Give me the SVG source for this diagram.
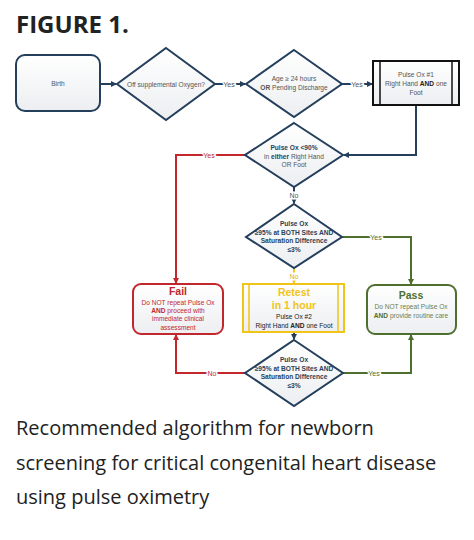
<svg xmlns="http://www.w3.org/2000/svg" width="474" height="540" viewBox="0 0 474 540">
<style>
.t{font-family:"Liberation Sans",Arial,sans-serif;font-size:6.6px;fill:#555;text-anchor:middle}
.h{font-size:10.5px;font-weight:bold}
.b{font-weight:bold}
.nv{fill:#2a3f57}
.lbl{font-family:"Liberation Sans",Arial,sans-serif;font-size:7px;text-anchor:middle;stroke:#fff;stroke-width:3;paint-order:stroke}
.nav{stroke:#243f5c;stroke-width:2;fill:none}
.red{stroke:#c1272d;stroke-width:2;fill:none}
.grn{stroke:#4f6f2f;stroke-width:2;fill:none}
.yel{stroke:#f0c419;stroke-width:2;fill:none}
.cap{font-family:"Open Sans","Liberation Sans",sans-serif;font-size:20px;fill:#222}
</style>
<defs>
<linearGradient id="g" x1="0" y1="0" x2="0" y2="1"><stop offset="0" stop-color="#ffffff"/><stop offset="1" stop-color="#eceef1"/></linearGradient>
<marker id="an" markerWidth="6" markerHeight="6" refX="5" refY="3" orient="auto" markerUnits="userSpaceOnUse"><path d="M0,0 L6,3 L0,6 z" fill="#243f5c"/></marker>
<marker id="ar" markerWidth="6" markerHeight="6" refX="5" refY="3" orient="auto" markerUnits="userSpaceOnUse"><path d="M0,0 L6,3 L0,6 z" fill="#c1272d"/></marker>
<marker id="ag" markerWidth="6" markerHeight="6" refX="5" refY="3" orient="auto" markerUnits="userSpaceOnUse"><path d="M0,0 L6,3 L0,6 z" fill="#4f6f2f"/></marker>
<marker id="ay" markerWidth="6" markerHeight="6" refX="5" refY="3" orient="auto" markerUnits="userSpaceOnUse"><path d="M0,0 L6,3 L0,6 z" fill="#f0c419"/></marker>
</defs>
<rect width="474" height="540" fill="#fff"/>
<text x="16" y="33" font-family="'Open Sans','Liberation Sans',sans-serif" font-size="24" font-weight="bold" fill="#222">FIGURE 1.</text>

<g id="connectors">
<line class="nav" x1="100" y1="84" x2="116" y2="84" marker-end="url(#an)"/>
<line class="nav" x1="215" y1="84" x2="245" y2="84" marker-end="url(#an)"/>
<text class="lbl" x="229" y="86.5" fill="#555">Yes</text>
<line class="nav" x1="342" y1="84" x2="372" y2="84" marker-end="url(#an)"/>
<text class="lbl" x="357" y="86.5" fill="#555">Yes</text>
<polyline class="nav" points="416,105 416,155 344,155" marker-end="url(#an)"/>
<polyline class="red" points="245,155 176,155 176,283" marker-end="url(#ar)"/>
<text class="lbl" x="209" y="157.5" fill="#c1272d">Yes</text>
<line class="nav" x1="294" y1="187" x2="294" y2="203" marker-end="url(#an)"/>
<text class="lbl" x="294" y="198" fill="#555">No</text>
<polyline class="grn" points="342,237 411,237 411,284" marker-end="url(#ag)"/>
<text class="lbl" x="376" y="239.5" fill="#4f6f2f">Yes</text>
<line class="yel" x1="294" y1="268" x2="294" y2="283" marker-end="url(#ay)"/>
<text class="lbl" x="294" y="279" fill="#e0b000">No</text>
<line class="nav" x1="294" y1="332" x2="294" y2="339" marker-end="url(#an)"/>
<polyline class="red" points="245,373 176,373 176,335" marker-end="url(#ar)"/>
<text class="lbl" x="212" y="375.5" fill="#c1272d">No</text>
<polyline class="grn" points="343,373 411,373 411,335" marker-end="url(#ag)"/>
<text class="lbl" x="374" y="375.5" fill="#4f6f2f">Yes</text>
</g>

<g id="birth">
<rect x="16" y="55" width="84" height="56" rx="9" fill="url(#g)" stroke="#243f5c" stroke-width="2"/>
<text class="t" x="58" y="86">Birth</text>
</g>

<g id="oxygen">
<polygon points="166,48 215,84 166,120 117,84" fill="url(#g)" stroke="#243f5c" stroke-width="2"/>
<text class="t" x="166" y="86.5">Off supplemental Oxygen?</text>
</g>

<g id="age">
<polygon points="294,50 342,84 294,117 246,84" fill="url(#g)" stroke="#243f5c" stroke-width="2"/>
<text class="t" x="294" y="81">Age ≥ 24 hours</text>
<text class="t" x="294" y="90"><tspan class="b">OR</tspan> Pending Discharge</text>
</g>

<g id="pulseox1">
<rect x="373" y="61" width="86" height="44" fill="url(#g)" stroke="#111" stroke-width="2"/>
<line x1="380" y1="61" x2="380" y2="105" stroke="#111" stroke-width="1.5"/>
<line x1="452" y1="61" x2="452" y2="105" stroke="#111" stroke-width="1.5"/>
<text class="t" x="416" y="77" fill="#333">Pulse Ox #1</text>
<text class="t" x="416" y="86">Right Hand <tspan class="b" fill="#222">AND</tspan> one</text>
<text class="t" x="416" y="95">Foot</text>
</g>

<g id="under90">
<polygon points="294,123 343,155 294,187 245,155" fill="url(#g)" stroke="#243f5c" stroke-width="2"/>
<text class="t b nv" x="294" y="150">Pulse Ox &lt;90%</text>
<text class="t" x="294" y="158.5">in <tspan class="b nv">either</tspan> Right Hand</text>
<text class="t" x="294" y="167">OR Foot</text>
</g>

<g id="check1">
<polygon points="294,204 342,237 294,268 246,237" fill="url(#g)" stroke="#243f5c" stroke-width="2"/>
<text class="t b nv" x="294" y="226">Pulse Ox</text>
<text class="t b nv" x="294" y="234.5">≥95% at BOTH Sites AND</text>
<text class="t b nv" x="294" y="243">Saturation Difference</text>
<text class="t b nv" x="294" y="251.5">≤3%</text>
</g>

<g id="fail">
<rect x="133" y="284" width="90" height="50" rx="8" fill="url(#g)" stroke="#c1272d" stroke-width="2"/>
<text class="t h" x="178" y="295" style="fill:#c1272d">Fail</text>
<text class="t" x="178" y="305" style="fill:#c1272d">Do NOT repeat Pulse Ox</text>
<text class="t" x="178" y="313" style="fill:#c1272d"><tspan class="b">AND</tspan> proceed with</text>
<text class="t" x="178" y="321" style="fill:#c1272d">immediate clinical</text>
<text class="t" x="178" y="329.5" style="fill:#c1272d">assessment</text>
</g>

<g id="retest">
<rect x="243" y="284" width="101" height="48" fill="url(#g)" stroke="#f0c419" stroke-width="2"/>
<line x1="249" y1="284" x2="249" y2="332" stroke="#f0c419" stroke-width="1.5"/>
<line x1="338" y1="284" x2="338" y2="332" stroke="#f0c419" stroke-width="1.5"/>
<text class="t h" x="294" y="296" style="fill:#f0c419">Retest</text>
<text class="t h" x="294" y="309" style="fill:#f0c419">in 1 hour</text>
<text class="t" x="294" y="319" style="fill:#222">Pulse Ox #2</text>
<text class="t" x="294" y="328" style="fill:#222">Right Hand <tspan class="b">AND</tspan> one Foot</text>
</g>

<g id="pass">
<rect x="367" y="285" width="89" height="49" rx="8" fill="url(#g)" stroke="#4f6f2f" stroke-width="2"/>
<text class="t h" x="411" y="299" style="fill:#4f6f2f">Pass</text>
<text class="t" x="411" y="309" style="fill:#6b7f55">Do NOT repeat Pulse Ox</text>
<text class="t" x="411" y="318" style="fill:#6b7f55"><tspan class="b" style="fill:#4f6f2f">AND</tspan> provide routine care</text>
</g>

<g id="check2">
<polygon points="294,340 343,373 294,406 245,373" fill="url(#g)" stroke="#243f5c" stroke-width="2"/>
<text class="t b nv" x="294" y="362">Pulse Ox</text>
<text class="t b nv" x="294" y="370.5">≥95% at BOTH Sites AND</text>
<text class="t b nv" x="294" y="379">Saturation Difference</text>
<text class="t b nv" x="294" y="387.5">≤3%</text>
</g>

<text class="cap" x="16" y="435">Recommended algorithm for newborn</text>
<text class="cap" x="16" y="470">screening for critical congenital heart disease</text>
<text class="cap" x="16" y="504">using pulse oximetry</text>
</svg>
